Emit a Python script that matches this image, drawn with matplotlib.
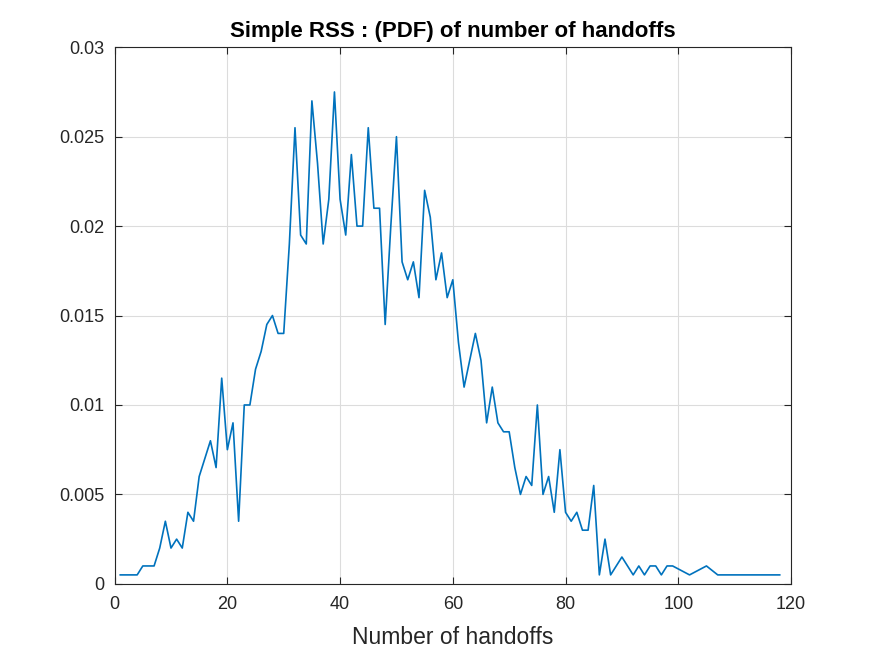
import matplotlib
matplotlib.use('Agg')
import matplotlib.pyplot as plt

# number of handoffs (x) and estimated pdf (y)
handoffs = list(range(1, 100)) + [102, 105, 107, 118]
pdf = [
    0.0005, 0.0005, 0.0005, 0.0005, 0.001, 0.001, 0.001, 0.002, 0.0035, 0.002,      # 1-10
    0.0025, 0.002, 0.004, 0.0035, 0.006, 0.007, 0.008, 0.0065, 0.0115, 0.0075,     # 11-20
    0.009, 0.0035, 0.01, 0.01, 0.012, 0.013, 0.0145, 0.015, 0.014, 0.014,          # 21-30
    0.019, 0.0255, 0.0195, 0.019, 0.027, 0.0235, 0.019, 0.0215, 0.0275, 0.0215,    # 31-40
    0.0195, 0.024, 0.02, 0.02, 0.0255, 0.021, 0.021, 0.0145, 0.02, 0.025,          # 41-50
    0.018, 0.017, 0.018, 0.016, 0.022, 0.0205, 0.017, 0.0185, 0.016, 0.017,        # 51-60
    0.0135, 0.011, 0.0125, 0.014, 0.0125, 0.009, 0.011, 0.009, 0.0085, 0.0085,     # 61-70
    0.0065, 0.005, 0.006, 0.0055, 0.01, 0.005, 0.006, 0.004, 0.0075, 0.004,        # 71-80
    0.0035, 0.004, 0.003, 0.003, 0.0055, 0.0005, 0.0025, 0.0005, 0.001, 0.0015,    # 81-90
    0.001, 0.0005, 0.001, 0.0005, 0.001, 0.001, 0.0005, 0.001, 0.001,              # 91-99
    0.0005, 0.001, 0.0005, 0.0005,                                                  # 102,105,107,118
]

plt.rcParams['font.family'] = ['Liberation Sans', 'DejaVu Sans']

fig = plt.figure(figsize=(8.75, 6.56), dpi=100)
ax = fig.add_axes([0.131, 0.110, 0.773, 0.818])

ax.plot(handoffs, pdf, color='#0072BD', linewidth=1.2)

ax.set_xlim(0, 120)
ax.set_ylim(0, 0.03)
ax.set_xticks([0, 20, 40, 60, 80, 100, 120])
ax.set_yticks([0, 0.005, 0.01, 0.015, 0.02, 0.025, 0.03])
ax.set_yticklabels(['0', '0.005', '0.01', '0.015', '0.02', '0.025', '0.03'])

ax.grid(True, color='#dcdcdc', linewidth=0.8)
ax.set_axisbelow(True)
for s in ax.spines.values():
    s.set_color('#262626')
    s.set_linewidth(0.8)
ax.tick_params(direction='in', length=5, width=0.8, colors='#262626',
               labelsize=13, top=True, right=True)
ax.tick_params(axis='x', pad=9)
ax.tick_params(axis='y', pad=7.5)

ax.set_title('Simple RSS : (PDF) of number of handoffs', fontsize=16,
             fontweight='bold', color='#000000', pad=7.5)
ax.set_xlabel('Number of handoffs', fontsize=16.5, color='#262626', labelpad=9)

fig.savefig('out.png', dpi=100)
